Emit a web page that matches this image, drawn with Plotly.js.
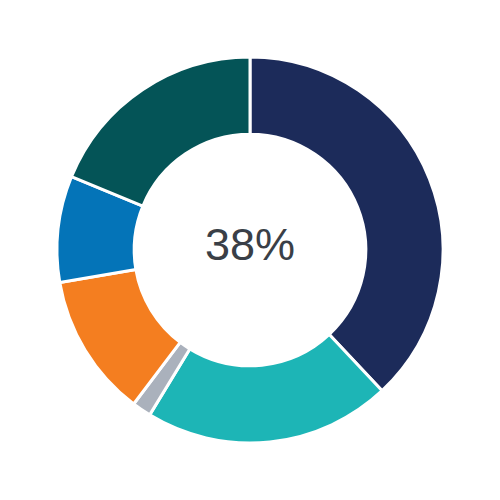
<!DOCTYPE html>
<html>
<head>
<meta charset="utf-8">
<script src="https://cdn.plot.ly/plotly-3.0.1.min.js"></script>
<style>
  html, body { margin: 0; padding: 0; background: #fff; }
  #chart { width: 500px; height: 500px; }
</style>
</head>
<body>
<div id="chart"></div>
<script>
// Segment shares, clockwise from 12 o'clock
var labels = ['A', 'B', 'C', 'D', 'E', 'F'];
var shares = [38, 20.7, 1.6, 12.0, 8.9, 18.8];
var sliceColors = ['#1c2b5a', '#1db5b6', '#aab1bc', '#f47e20', '#0474b8', '#045457'];
var centerText = '38%';

var trace = {
    type: 'pie',
    labels: labels,
    values: shares,
    hole: 0.6,
    sort: false,
    direction: 'clockwise',
    rotation: 0,
    textinfo: 'none',
    hoverinfo: 'none',
    marker: {
        colors: sliceColors,
        line: { color: '#ffffff', width: 3 }
    }
};

var layout = {
    width: 500,
    height: 500,
    showlegend: false,
    margin: { l: 57, r: 57, t: 57, b: 57 },
    paper_bgcolor: '#ffffff',
    annotations: [{
        text: centerText,
        x: 0.5, y: 0.515,
        xref: 'paper', yref: 'paper',
        showarrow: false,
        font: { family: 'Liberation Sans, Arial, sans-serif', size: 45, color: '#3a3f47' }
    }]
};

Plotly.newPlot('chart', [trace], layout, { staticPlot: true });
</script>
</body>
</html>
